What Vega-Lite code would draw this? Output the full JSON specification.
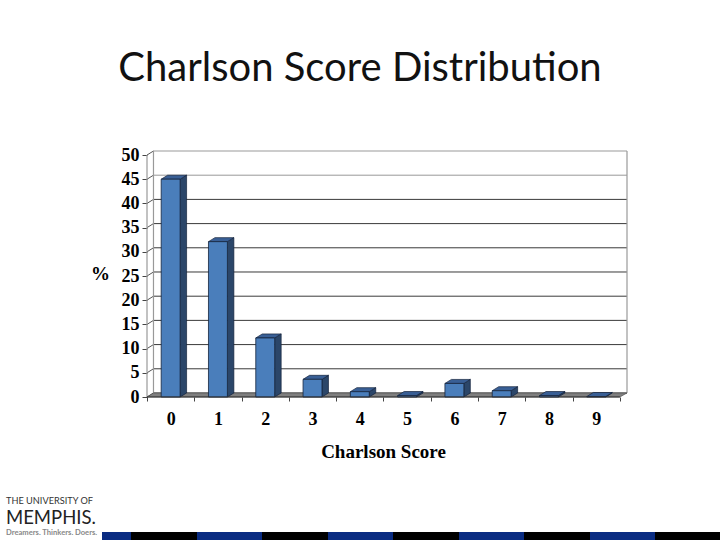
{
"$schema":"https://vega.github.io/schema/vega-lite/v6.json",
"width":480,"height":246,
"autosize":{"type":"none"},
"padding":{"left":147,"top":151,"right":93,"bottom":143},
"background":"white",
"view":{"stroke":null},
"config":{"axis":{"labelOverlap":false,"labelBound":false},"axisY":{"tickCount":11,"values":[0,5,10,15,20,25,30,35,40,45,50],"labelOverlap":false}},
"title":{"text":"Charlson Score Distribution","font":"Lato","fontSize":40,"fontWeight":"normal","color":"#111111","anchor":"middle","frame":"group","baseline":"alphabetic","dx":-27,"offset":25},
"datasets":{
"bars":[{"score":0,"pct":45},{"score":1,"pct":32.1},{"score":2,"pct":12.2},{"score":3,"pct":3.65},{"score":4,"pct":1.1},{"score":5,"pct":0.3},{"score":6,"pct":2.8},{"score":7,"pct":1.3},{"score":8,"pct":0.3},{"score":9,"pct":0.1}],
"ticks":[{"tick":0},{"tick":5},{"tick":10},{"tick":15},{"tick":20},{"tick":25},{"tick":30},{"tick":35},{"tick":40},{"tick":45},{"tick":50}],
"stripes":[{"a":102,"b":131,"c":"navy"},{"a":131,"b":197,"c":"black"},{"a":197,"b":262,"c":"navy"},{"a":262,"b":328,"c":"black"},{"a":328,"b":393,"c":"navy"},{"a":393,"b":459,"c":"black"},{"a":459,"b":524,"c":"navy"},{"a":524,"b":590,"c":"black"},{"a":590,"b":655,"c":"navy"},{"a":655,"b":720,"c":"black"}]
},
"resolve":{"scale":{"x":"independent","y":"independent"},"axis":{"x":"independent","y":"independent"}},
"layer":[
{"layer":[
{"data":{"name":"ticks"},
 "transform":[{"calculate":"datum.tick+0.83","as":"yb"},{"calculate":"-0.363","as":"xa"},{"calculate":"9.65","as":"xb"}],
 "mark":{"type":"rule","strokeWidth":1},
 "encoding":{
  "x":{"field":"xa","type":"quantitative","scale":{"domain":[-0.5,9.65],"nice":false,"zero":false},
   "axis":{"values":[-0.5,0.5,1.5,2.5,3.5,4.5,5.5,6.5,7.5,8.5,9.5],"labelExpr":"datum.value>9?'':format(datum.value+0.5,'d')","labelOffset":23.65,"labelFont":"Liberation Serif","labelFontWeight":"bold","labelFontSize":18,"labelColor":"#000000","labelPadding":9,"labelFlush":false,"labelOverlap":false,"tickColor":"#444444","tickSize":4,"domain":false,"grid":false,"title":"Charlson Score","titleFont":"Liberation Serif","titleFontWeight":"bold","titleFontSize":19,"titleColor":"#000000","titleX":236,"titleY":45,"titleAnchor":"middle"}},
  "x2":{"field":"xb"},
  "y":{"field":"yb","type":"quantitative","scale":{"domain":[0,50.83],"nice":false,"zero":false},
   "axis":{"values":[0,5,10,15,20,25,30,35,40,45,50],"tickCount":11,"labelExpr":"format(datum.value,'d')","labelFont":"Liberation Serif","labelFontWeight":"bold","labelFontSize":18,"labelColor":"#000000","labelPadding":3,"labelOverlap":false,"labelFlush":false,"tickColor":"#444444","tickSize":5,"domain":false,"grid":false,"title":"%","titleFont":"Liberation Serif","titleFontWeight":"bold","titleFontSize":19,"titleColor":"#000000","titleAngle":0,"titleX":-47,"titleY":132,"titleAlign":"center"}},
  "stroke":{"condition":{"test":"datum.tick>=45","value":"#999999"},"value":"#3a3a3a"}}},
{"data":{"name":"ticks"},
 "transform":[{"calculate":"datum.tick+0.83","as":"yb"},{"calculate":"-0.5","as":"xa"},{"calculate":"-0.363","as":"xb"}],
 "mark":{"type":"rule","stroke":"#555555","strokeWidth":1},
 "encoding":{"x":{"field":"xa","type":"quantitative"},"x2":{"field":"xb"},"y":{"field":"tick","type":"quantitative"},"y2":{"field":"yb"}}},
{"data":{"values":[{"xw":-0.5,"lo":0,"hi":50},{"xw":-0.363,"lo":0.83,"hi":50.83},{"xw":9.65,"lo":0.83,"hi":50.83}]},
 "mark":{"type":"rule","stroke":"#999999","strokeWidth":1.2},
 "encoding":{"x":{"field":"xw","type":"quantitative"},"y":{"field":"lo","type":"quantitative"},"y2":{"field":"hi"}}},
{"data":{"values":[{"u":0},{"u":1}]},
 "transform":[{"calculate":"datum.u*0.83","as":"yf"},{"calculate":"-0.5+datum.u*0.137","as":"xl"},{"calculate":"9.5+datum.u*0.15","as":"xr"}],
 "mark":{"type":"area","orient":"horizontal","fill":"#7f7f7f","stroke":"#444444","strokeWidth":0.6},
 "encoding":{"y":{"field":"yf","type":"quantitative"},"x":{"field":"xl","type":"quantitative"},"x2":{"field":"xr"}}},
{"data":{"name":"bars"},
 "transform":[{"calculate":"[0,1]","as":"u"},{"flatten":["u"]},{"calculate":"datum.score+0.2+datum.u*0.137","as":"xs"},{"calculate":"datum.pct+datum.u*0.83","as":"top"},{"calculate":"datum.u*0.83","as":"bot"}],
 "mark":{"type":"area","fill":"#2b4669","stroke":"#14233c","strokeWidth":0.7},
 "encoding":{"x":{"field":"xs","type":"quantitative"},"y":{"field":"top","type":"quantitative"},"y2":{"field":"bot"},"detail":{"field":"score"}}},
{"data":{"name":"bars"},
 "transform":[{"calculate":"[0,1]","as":"u"},{"flatten":["u"]},{"calculate":"datum.pct+datum.u*0.83","as":"top"},{"calculate":"datum.score-0.2+datum.u*0.137","as":"xl"},{"calculate":"datum.score+0.2+datum.u*0.137","as":"xr"}],
 "mark":{"type":"area","orient":"horizontal","fill":"#395f95","stroke":"#14233c","strokeWidth":0.7},
 "encoding":{"y":{"field":"top","type":"quantitative"},"x":{"field":"xl","type":"quantitative"},"x2":{"field":"xr"},"detail":{"field":"score"}}},
{"data":{"name":"bars"},
 "transform":[{"calculate":"datum.score-0.2","as":"xl"},{"calculate":"datum.score+0.2","as":"xr"},{"calculate":"0","as":"base"}],
 "mark":{"type":"rect","fill":"#4a7ebb","stroke":"#14233c","strokeWidth":0.8},
 "encoding":{"x":{"field":"xl","type":"quantitative"},"x2":{"field":"xr"},"y":{"field":"pct","type":"quantitative"},"y2":{"field":"base"}}},
{"data":{"values":[{"xa":-0.5,"xb":9.5,"yz":0}]},
 "mark":{"type":"rule","stroke":"#333333","strokeWidth":1},
 "encoding":{"x":{"field":"xa","type":"quantitative"},"x2":{"field":"xb"},"y":{"field":"yz","type":"quantitative"}}}
]},
{"layer":[
{"data":{"name":"stripes"},
 "mark":{"type":"rect"},
 "encoding":{
  "x":{"field":"a","type":"quantitative","axis":null,"scale":{"domain":[0,720],"range":[-147,573],"nice":false,"zero":false}},
  "x2":{"field":"b"},
  "y":{"datum":532,"type":"quantitative","axis":null,"scale":{"domain":[0,540],"range":[-151,389],"nice":false,"zero":false}},
  "y2":{"datum":540},
  "fill":{"field":"c","type":"nominal","legend":null,"scale":{"domain":["navy","black"],"range":["#0a2c82","#000000"]}}}},
{"data":{"values":[{"line":"THE UNIVERSITY OF"}]},
 "mark":{"type":"text","align":"left","baseline":"alphabetic","font":"Lato","fontSize":9.2,"color":"#333333"},
 "encoding":{"x":{"datum":6,"type":"quantitative"},"y":{"datum":504,"type":"quantitative"},"text":{"field":"line"}}},
{"data":{"values":[{"line":"MEMPHIS."}]},
 "mark":{"type":"text","align":"left","baseline":"alphabetic","font":"Lato","fontSize":18.5,"color":"#222222"},
 "encoding":{"x":{"datum":6,"type":"quantitative"},"y":{"datum":524,"type":"quantitative"},"text":{"field":"line"}}},
{"data":{"values":[{"line":"Dreamers. Thinkers. Doers."}]},
 "mark":{"type":"text","align":"left","baseline":"alphabetic","font":"Lato","fontSize":7.6,"fontWeight":"bold","color":"#888888"},
 "encoding":{"x":{"datum":6,"type":"quantitative"},"y":{"datum":535,"type":"quantitative"},"text":{"field":"line"}}}
]}
]
}
